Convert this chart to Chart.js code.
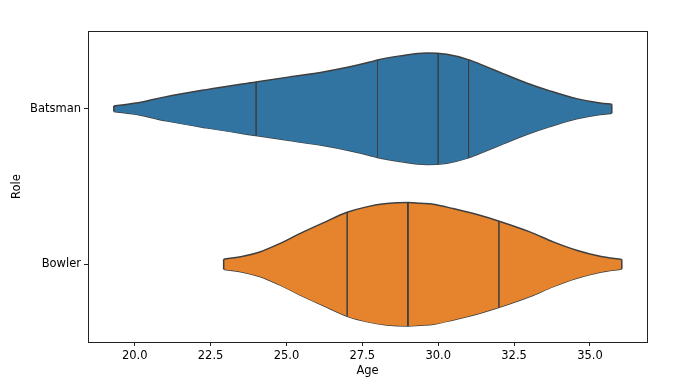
<!DOCTYPE html>
<html>
<head>
<meta charset="utf-8">
<script src="https://cdn.jsdelivr.net/npm/chart.js@4.4.0/dist/chart.umd.min.js"></script>
<style>
    html, body { margin: 0; padding: 0; background: #fff; }
</style>
</head>
<body>
<canvas id="violinChart" width="700" height="384"></canvas>
<script>
const roles = ['Batsman', 'Bowler'];
const xTicks = [20.0, 22.5, 25.0, 27.5, 30.0, 32.5, 35.0];

// violin outlines: age -> half width (in category units)
const batsmanAges = [19.31, 20.16, 21.04, 22.36, 23.99, 25.11, 26.21, 27.09, 27.75, 28.0, 28.74, 29.62, 30.28, 30.99, 31.6, 32.14, 32.91, 33.68, 34.56, 35.33, 35.72];
const batsmanHalf = [0.018, 0.040, 0.078, 0.123, 0.172, 0.205, 0.237, 0.270, 0.300, 0.314, 0.340, 0.359, 0.350, 0.316, 0.269, 0.226, 0.166, 0.115, 0.065, 0.037, 0.029];
const batsmanSticks = [24, 28, 30, 31];
const batsmanStickHalf = [0.172, 0.314, 0.355, 0.316];

const bowlerAges = [22.93, 23.57, 24.12, 24.78, 25.44, 26.21, 27.0, 27.64, 28.30, 29.01, 29.4, 29.84, 30.49, 31.37, 32.01, 33.02, 33.79, 34.56, 35.33, 36.05];
const bowlerHalf = [0.032, 0.051, 0.079, 0.133, 0.197, 0.266, 0.334, 0.369, 0.390, 0.397, 0.392, 0.386, 0.358, 0.315, 0.277, 0.208, 0.144, 0.090, 0.051, 0.030];
const bowlerSticks = [27, 29, 29, 32];
const bowlerStickHalf = [0.334, 0.397, 0.397, 0.277];

const colors = ['#3274a1', '#e5842c'];
const edgeColor = '#3f3f3f';

function segment(x, y0, y1, width) {
    return {
        data: [{x: x, y: y0}, {x: x, y: y1}],
        showLine: true,
        borderColor: edgeColor,
        borderWidth: width,
        pointRadius: 0,
        fill: false,
        order: 1
    };
}

function violin(pos, ages, half, sticks, stickHalf, color) {
    const sets = [];
    sets.push({
        data: ages.map((a, i) => ({x: a, y: pos - half[i]})),
        showLine: true,
        cubicInterpolationMode: 'monotone',
        borderColor: edgeColor,
        borderWidth: 1.5,
        backgroundColor: color,
        pointRadius: 0,
        fill: '+1',
        order: 3
    });
    sets.push({
        data: ages.map((a, i) => ({x: a, y: pos + half[i]})),
        showLine: true,
        cubicInterpolationMode: 'monotone',
        borderColor: edgeColor,
        borderWidth: 1.5,
        pointRadius: 0,
        fill: false,
        order: 3
    });
    // flat ends of the violin
    const last = ages.length - 1;
    sets.push(segment(ages[0], pos - half[0], pos + half[0], 1.5));
    sets.push(segment(ages[last], pos - half[last], pos + half[last], 1.5));
    // inner sticks
    sticks.forEach((s, i) => sets.push(segment(s, pos - stickHalf[i], pos + stickHalf[i], 0.8)));
    return sets;
}

// frame round the plot area (all four spines)
const framePlugin = {
    id: 'frame',
    afterDatasetsDraw(chart) {
        const a = chart.chartArea;
        const ctx = chart.ctx;
        ctx.save();
        ctx.strokeStyle = '#222';
        ctx.lineWidth = 1;
        ctx.strokeRect(Math.round(a.left) + 0.5, Math.round(a.top) + 0.5,
            Math.round(a.right - a.left), Math.round(a.bottom - a.top));
        ctx.restore();
    }
};

const font = {family: 'DejaVu Sans', size: 11.5};

const ctx = document.getElementById('violinChart').getContext('2d');
new Chart(ctx, {
    type: 'scatter',
    data: {
        datasets: [
            ...violin(0, batsmanAges, batsmanHalf, batsmanSticks, batsmanStickHalf, colors[0]),
            ...violin(1, bowlerAges, bowlerHalf, bowlerSticks, bowlerStickHalf, colors[1])
        ]
    },
    options: {
        responsive: false,
        animation: false,
        layout: { padding: { left: 0, right: 53, top: 31, bottom: 0 } },
        plugins: {
            legend: { display: false },
            tooltip: { enabled: false }
        },
        scales: {
            x: {
                type: 'linear',
                min: 18.46,
                max: 36.88,
                afterBuildTicks: (axis) => { axis.ticks = xTicks.map(v => ({value: v})); },
                afterFit: (axis) => { axis.height = 42; },
                ticks: {
                    color: '#000',
                    font: font,
                    padding: 3,
                    maxRotation: 0,
                    callback: (v) => Number(v).toFixed(1)
                },
                grid: { drawOnChartArea: false, drawTicks: true, tickLength: 4, color: '#222' },
                border: { color: '#222' },
                title: { display: true, text: 'Age', color: '#000', font: font, padding: { top: 0, bottom: 6 } }
            },
            y: {
                type: 'linear',
                min: -0.5,
                max: 1.5,
                reverse: true,
                afterBuildTicks: (axis) => { axis.ticks = roles.map((r, i) => ({value: i})); },
                afterFit: (axis) => { axis.width = 88; },
                ticks: {
                    color: '#000',
                    font: font,
                    padding: 3,
                    callback: (v) => roles[v]
                },
                grid: { drawOnChartArea: false, drawTicks: true, tickLength: 4, color: '#222' },
                border: { color: '#222' },
                title: { display: true, text: 'Role', color: '#000', font: font, padding: { top: 10, bottom: 0 } }
            }
        }
    },
    plugins: [framePlugin]
});
</script>
</body>
</html>
